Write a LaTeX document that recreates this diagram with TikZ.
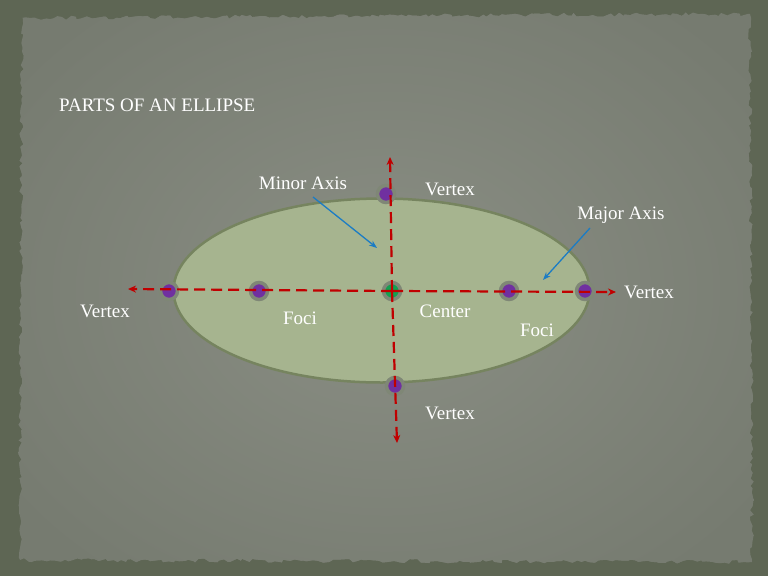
\documentclass[tikz,border=0pt]{standalone}
\usepackage{fontspec}
\setmainfont{Liberation Serif}
\usetikzlibrary{arrows.meta,decorations.pathmorphing}
\definecolor{frameclr}{HTML}{5E6654}
\definecolor{panelclr}{HTML}{767B70}
\definecolor{panellight}{HTML}{8A8E84}
\definecolor{ellfill}{HTML}{A6B48F}
\definecolor{elledge}{HTML}{76845F}
\definecolor{dotpurple}{HTML}{7030A0}
\definecolor{dotgreen}{HTML}{12A050}
\definecolor{halo}{HTML}{7F8776}
\definecolor{axisred}{HTML}{C00000}
\definecolor{pointerblue}{HTML}{1B7CC4}
\tikzset{
  dotv/.style={circle, inner sep=0pt, minimum size=17pt, fill=dotpurple, draw=halo, line width=3.5pt},
  dotc/.style={circle, inner sep=0pt, minimum size=17pt, fill=dotgreen, draw=halo, line width=3.5pt},
  axisline/.style={draw=axisred, line width=2.2pt, dash pattern=on 11pt off 6pt, -{Stealth[length=8pt,width=7pt]}},
  pointer/.style={draw=pointerblue, line width=1.3pt, -{Stealth[length=8pt,width=6pt]}},
  lbl/.style={text=white, font=\fontsize{19}{22}\selectfont, inner sep=0pt},
}
\begin{document}
\begin{tikzpicture}[x=1pt,y=-1pt]
\useasboundingbox (0,0) rectangle (768,576);
\fill[frameclr] (0,0) rectangle (768,576);
\begin{scope}
\clip[decorate, decoration={random steps,segment length=4pt,amplitude=2pt}]
  (22,18) -- (750,14) -- (752,562) -- (20,560) -- cycle;
\fill[panelclr] (0,0) rectangle (768,576);
\shade[inner color=panellight, outer color=panelclr] (386,290) ellipse [x radius=460, y radius=360];
\end{scope}
% ellipse
\draw[fill=ellfill, draw=elledge, line width=2.5pt] (381.5,290.5) ellipse [x radius=208, y radius=92];
% dots
\node[dotv] (vl) at (169,291) {};
\node[dotv] (fl) at (259,291) {};
\node[dotc] (ctr) at (392,291) {};
\node[dotv] (fr) at (509,291) {};
\node[dotv] (vr) at (585,291) {};
\node[dotv] (vtop) at (386,194) {};
\node[dotv] (vbot) at (395,386) {};
% coordinates for axes
\coordinate (hl) at (128,289);
\coordinate (hr) at (616,292);
\coordinate (vt) at (390,157);
\coordinate (vb) at (397,443);
% axes
\draw[axisline] (ctr.center) -- (hl);
\draw[axisline] (ctr.center) -- (hr);
\draw[axisline] (ctr.center) -- (vt);
\draw[axisline] (ctr.center) -- (vb);
% labels
\node[lbl, anchor=west] (title) at (59,105) {PARTS OF AN ELLIPSE};
\node[lbl] (minor) at (303,183) {Minor Axis};
\node[lbl] (vtl) at (450,189) {Vertex};
\node[lbl] (major) at (621,215) {Major Axis};
\node[lbl] (vrl) at (649,292) {Vertex};
\node[lbl] (vll) at (105,311) {Vertex};
\node[lbl] (foc1) at (300,318) {Foci};
\node[lbl] (cen) at (445,311) {Center};
\node[lbl] (foc2) at (537,330) {Foci};
\node[lbl] (vbl) at (450,413) {Vertex};
% pointers
\coordinate (minend) at (377,248);
\coordinate (majend) at (543,280);
\draw[pointer] (313,197) -- (minend);
\draw[pointer] (590,228) -- (majend);
\end{tikzpicture}
\end{document}
